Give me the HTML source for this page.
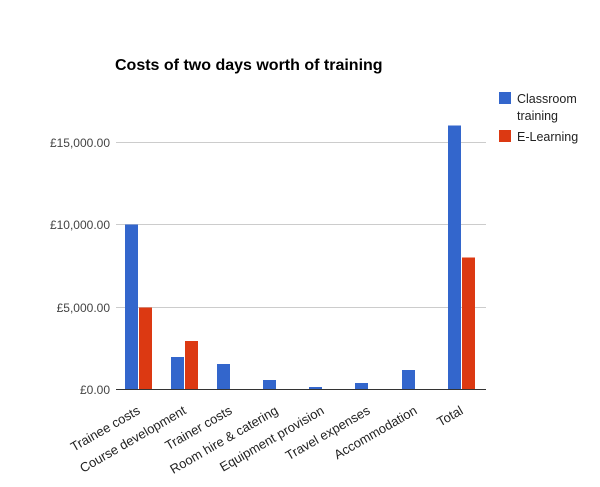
<!DOCTYPE html>
<html><head><style>body{margin:0;background:#fff}</style></head><body>
<svg width="600" height="482" xmlns="http://www.w3.org/2000/svg" font-family="Liberation Sans, Arial, sans-serif">
<rect width="600" height="482" fill="#fff"/>
<text x="115" y="70" font-size="16" font-weight="bold" fill="#000">Costs of two days worth of training</text>
<g stroke="#ccc" stroke-width="1">
<line x1="116" x2="486" y1="142.5" y2="142.5"/>
<line x1="116" x2="486" y1="224.5" y2="224.5"/>
<line x1="116" x2="486" y1="307.5" y2="307.5"/>
</g>
<g font-size="12" fill="#444" text-anchor="end">
<text x="110" y="147">£15,000.00</text>
<text x="110" y="229">£10,000.00</text>
<text x="110" y="312">£5,000.00</text>
<text x="110" y="394">£0.00</text>
</g>
<g fill="#3366cc">
<rect x="125" y="224.5" width="13" height="165"/>
<rect x="171" y="357" width="13" height="32.5"/>
<rect x="217" y="364" width="13" height="25.5"/>
<rect x="263" y="380" width="13" height="9.5"/>
<rect x="309" y="387" width="13" height="2.5"/>
<rect x="355" y="383" width="13" height="6.5"/>
<rect x="402" y="370" width="13" height="19.5"/>
<rect x="448" y="125.5" width="13" height="264"/>
</g>
<g fill="#dc3912">
<rect x="139" y="307.5" width="13" height="82"/>
<rect x="185" y="341" width="13" height="48.5"/>
<rect x="462" y="257.5" width="13" height="132"/>
</g>
<line x1="116" x2="486" y1="389.5" y2="389.5" stroke="#333" stroke-width="1"/>
<g font-size="13" fill="#222" text-anchor="end">
<text transform="translate(141,413) rotate(-30)">Trainee costs</text>
<text transform="translate(187,413) rotate(-30)">Course development</text>
<text transform="translate(233,413) rotate(-30)">Trainer costs</text>
<text transform="translate(279,413) rotate(-30)">Room hire &amp; catering</text>
<text transform="translate(325,413) rotate(-30)">Equipment provision</text>
<text transform="translate(371,413) rotate(-30)">Travel expenses</text>
<text transform="translate(418,413) rotate(-30)">Accommodation</text>
<text transform="translate(464,413) rotate(-30)">Total</text>
</g>
<rect x="499" y="92" width="12" height="12" fill="#3366cc"/>
<rect x="499" y="130" width="12" height="12" fill="#dc3912"/>
<g font-size="12.5" fill="#222">
<text x="517" y="103">Classroom</text>
<text x="517" y="120">training</text>
<text x="517" y="141">E-Learning</text>
</g>
</svg>
</body></html>
